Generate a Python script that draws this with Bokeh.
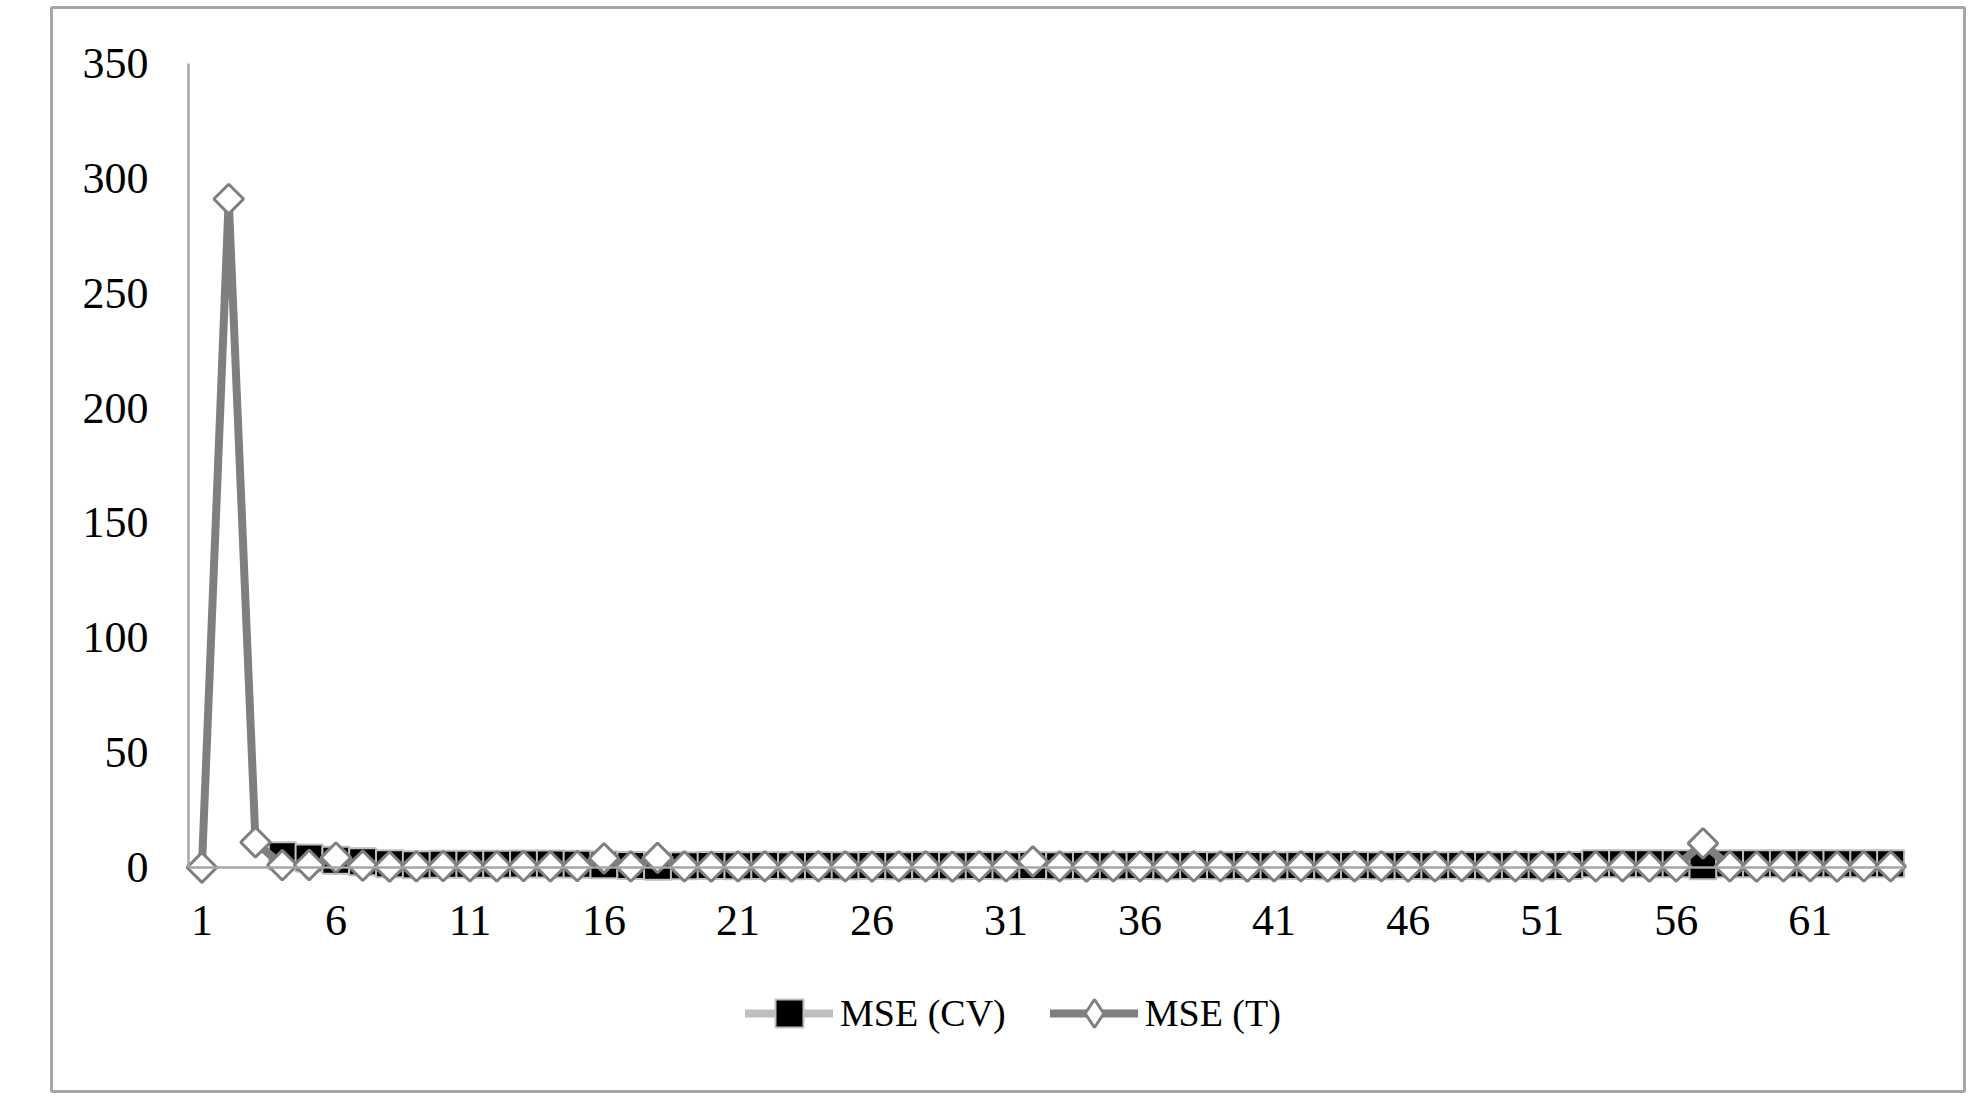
import math
from bokeh.plotting import figure
from bokeh.models import Range1d, FixedTicker, Legend, LegendItem
from bokeh.embed import file_html
from bokeh.resources import INLINE

nan = float("nan")

# ---------------- data ----------------
categories = list(range(1, 65))

mse_t = [0, 291, 11, 1.0, 1.1, 4.3, 0.8, 0.4, 0.5, 0.6,
         0.5, 0.5, 0.6, 0.5, 0.6, 4.0, 0.5, 4.2, 0.5, 0.4,
         0.5, 0.5, 0.4, 0.5, 0.5, 0.4, 0.5, 0.5, 0.4, 0.5,
         0.5, 2.6, 0.5, 0.4, 0.5, 0.5, 0.4, 0.5, 0.5, 0.4,
         0.5, 0.5, 0.4, 0.5, 0.5, 0.4, 0.5, 0.5, 0.4, 0.5,
         0.5, 0.4, 0.5, 0.5, 0.4, 0.5, 10.5, 0.5, 0.4, 0.5,
         0.5, 0.4, 0.5, 0.5]

mse_cv = [nan, nan, nan, 5.1, 4.1, 3.2, 2.5, 1.6, 1.2, 1.4,
          1.4, 1.4, 1.5, 1.5, 1.4, 1.2, 0.9, 0.6, 0.8, 0.9,
          0.8, 0.9, 0.8, 0.9, 0.8, 0.9, 0.8, 0.9, 0.8, 0.9,
          0.8, 0.9, 0.8, 0.9, 0.8, 0.9, 0.8, 0.9, 0.8, 0.9,
          0.8, 0.9, 0.8, 0.9, 0.8, 0.9, 0.8, 0.9, 0.8, 0.9,
          0.8, 0.9, 1.6, 1.6, 1.6, 1.6, 0.8, 1.6, 1.6, 1.6,
          1.6, 1.6, 1.6, 1.6]

x_ticks = [1, 6, 11, 16, 21, 26, 31, 36, 41, 46, 51, 56, 61]
y_ticks = [0, 50, 100, 150, 200, 250, 300, 350]
series_labels = ["MSE (CV)", "MSE (T)"]

FONT = "Liberation Serif"
AXIS_GRAY = "#A6A6A6"
CV_LINE = "#BFBFBF"
T_LINE = "#7F7F7F"

# The frame is the Excel chart area (bordered); axes are fixed inside it.
p = figure(width=1967, height=1094, output_backend="svg", toolbar_location=None,
           x_range=Range1d(-4.611, 66.756), y_range=Range1d(-97.51, 374.38),
           min_border_left=51, min_border_right=3,
           min_border_top=7, min_border_bottom=3)
p.background_fill_color = "white"
p.border_fill_color = "white"
p.outline_line_color = AXIS_GRAY
p.outline_line_width = 3
p.xgrid.visible = False
p.ygrid.visible = False

# y axis (value axis) at the left edge of the plot area
yax = p.yaxis[0]
yax.fixed_location = 0.5
yax.ticker = FixedTicker(ticks=y_ticks)
yax.bounds = (0, 350)
yax.axis_line_color = AXIS_GRAY
yax.axis_line_width = 2.5
yax.major_tick_line_color = None
yax.minor_tick_line_color = None
yax.major_label_standoff = 34
yax.major_label_text_font = FONT
yax.major_label_text_font_size = "44px"
yax.major_label_text_color = "black"

# x axis (category axis) at value 0
xax = p.xaxis[0]
xax.fixed_location = 0
xax.ticker = FixedTicker(ticks=x_ticks)
xax.bounds = (0.5, 64.5)
xax.axis_line_color = AXIS_GRAY
xax.axis_line_width = 2.5
xax.major_tick_line_color = None
xax.minor_tick_line_color = None
xax.major_label_standoff = 32
xax.major_label_text_font = FONT
xax.major_label_text_font_size = "44px"
xax.major_label_text_color = "black"

# series
cv_line = p.line(categories, mse_cv, line_color=CV_LINE, line_width=8,
                 line_join="round", line_cap="round")
cv_pts = p.scatter(categories, mse_cv, marker="square", size=27,
                   fill_color="black", line_color=CV_LINE, line_width=2)
t_line = p.line(categories, mse_t, line_color=T_LINE, line_width=8,
                line_join="round", line_cap="round")
t_pts = p.scatter(categories, mse_t, marker="square", angle=math.pi / 4,
                  size=21, fill_color="white", line_color=T_LINE, line_width=3)
# legend-only marker (the legend key shows a narrow diamond)
t_key = p.scatter([nan], [nan], marker="diamond", size=30,
                  fill_color="white", line_color=T_LINE, line_width=3)

legend = Legend(items=[LegendItem(label=series_labels[0], renderers=[cv_line, cv_pts]),
                       LegendItem(label=series_labels[1], renderers=[t_line, t_key])],
                orientation="horizontal", location=(694, 43),
                glyph_width=88, glyph_height=70, label_standoff=7, spacing=44,
                padding=0, margin=0, label_height=40,
                label_text_font=FONT, label_text_font_size="38px",
                label_text_color="black",
                border_line_color=None, background_fill_alpha=0)
p.add_layout(legend, "center")

open("out.html", "w").write(file_html(p, INLINE))
